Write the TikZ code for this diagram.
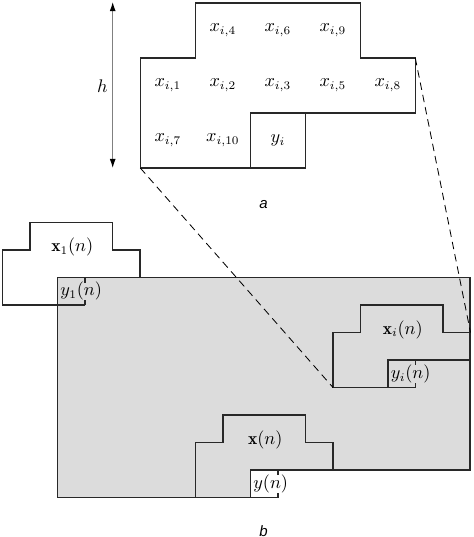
\documentclass[tikz,border=0pt]{standalone}
\usepackage{fontspec}
\usepackage{amsmath}
\usetikzlibrary{arrows.meta}
\newfontfamily\labfont{Liberation Sans}
\definecolor{pastgray}{RGB}{220,220,220}
\definecolor{edge}{RGB}{40,40,40}
\begin{document}
\begin{tikzpicture}[x=0.6pt,y=-0.6pt,
  outl/.style={draw=edge,line width=0.75pt,line join=miter},
  tickmark/.style={draw=edge,line width=0.75pt},
  cell/.style={inner sep=0pt,font=\fontsize{10.5}{12}\selectfont},
  small/.style={inner sep=0pt,anchor=west,font=\fontsize{10.5}{12}\selectfont},
  dsh/.style={draw=black,line width=0.5pt,dash pattern=on 4.5pt off 3pt},
  figlabel/.style={inner sep=0pt,font=\labfont\itshape\fontsize{9}{10}\selectfont}]
\useasboundingbox (0,0) rectangle (474,537);

% ---------------- big shape (a) ----------------
\def\X{140.3}\def\Y{3}\def\c{55}
\draw[outl] (\X,\Y+\c) -- (\X+\c,\Y+\c) -- (\X+\c,\Y) -- (\X+4*\c,\Y)
  -- (\X+4*\c,\Y+\c) -- (\X+5*\c,\Y+\c) -- (\X+5*\c,\Y+2*\c)
  -- (\X+3*\c,\Y+2*\c) -- (\X+3*\c,\Y+3*\c) -- (\X,\Y+3*\c) -- cycle;
\draw[outl] (\X+2*\c,\Y+3*\c) -- (\X+2*\c,\Y+2*\c) -- (\X+3*\c,\Y+2*\c);
\coordinate (bigBL) at (\X,\Y+3*\c);
\coordinate (bigTR) at (\X+5*\c,\Y+\c);

\node[cell] (x4)  at (\X+1.5*\c,\Y+0.5*\c) {$x_{i,4}$};
\node[cell] (x6)  at (\X+2.5*\c,\Y+0.5*\c) {$x_{i,6}$};
\node[cell] (x9)  at (\X+3.5*\c,\Y+0.5*\c) {$x_{i,9}$};
\node[cell] (x1)  at (\X+0.5*\c,\Y+1.5*\c) {$x_{i,1}$};
\node[cell] (x2)  at (\X+1.5*\c,\Y+1.5*\c) {$x_{i,2}$};
\node[cell] (x3)  at (\X+2.5*\c,\Y+1.5*\c) {$x_{i,3}$};
\node[cell] (x5)  at (\X+3.5*\c,\Y+1.5*\c) {$x_{i,5}$};
\node[cell] (x8)  at (\X+4.5*\c,\Y+1.5*\c) {$x_{i,8}$};
\node[cell] (x7)  at (\X+0.5*\c,\Y+2.5*\c) {$x_{i,7}$};
\node[cell] (x10) at (\X+1.5*\c,\Y+2.5*\c) {$x_{i,10}$};
\node[cell] (yi)  at (\X+2.5*\c,\Y+2.5*\c) {$y_i$};

% height arrow
\coordinate (hTop) at (112.7,2);
\coordinate (hBot) at (112.7,168);
\draw[draw=gray,line width=0.6pt,{Latex[length=5.5pt,width=3.6pt,color=black]}-{Latex[length=5.5pt,width=3.6pt,color=black]}] (hTop) -- (hBot);
\node[cell] (hlab) at (102.5,86) {$h$};

\node[figlabel] (alab) at (263.5,205) {a};

% ---------------- picture (b) ----------------
\def\c{27.5}
% causal region
\fill[pastgray] (57.5,277.5) -- (470,277.5) -- (470,470) -- (250.5,470)
  -- (250.5,497.5) -- (57.5,497.5) -- cycle;
\draw[outl] (57.5,277.5) -- (470,277.5) -- (470,470) -- (250.5,470)
  -- (250.5,497.5) -- (57.5,497.5) -- cycle;

% x_1(n) shape
\def\X{2.5}\def\Y{222.5}
\draw[outl] (\X+3*\c,\Y+3*\c) -- (\X,\Y+3*\c) -- (\X,\Y+\c) -- (\X+\c,\Y+\c)
  -- (\X+\c,\Y) -- (\X+4*\c,\Y) -- (\X+4*\c,\Y+\c) -- (\X+5*\c,\Y+\c) -- (\X+5*\c,\Y+2*\c);
\draw[tickmark] (\X+3*\c,\Y+2*\c) -- ++(0,5);
\draw[tickmark] (\X+3*\c,\Y+3*\c) -- ++(0,-5);
\node[cell] (xone) at (\X+2.5*\c+1,\Y+\c-3) {$\mathbf{x}_1(n)$};
\node[small] (yone) at (\X+2*\c+2.5,\Y+2.5*\c) {$y_1(n)$};

% x_i(n) shape
\def\X{333}\def\Y{305}
\draw[outl] (\X+3*\c,\Y+3*\c) -- (\X,\Y+3*\c) -- (\X,\Y+\c) -- (\X+\c,\Y+\c)
  -- (\X+\c,\Y) -- (\X+4*\c,\Y) -- (\X+4*\c,\Y+\c) -- (\X+5*\c,\Y+\c);
\draw[outl] (\X+2*\c,\Y+3*\c) -- (\X+2*\c,\Y+2*\c) -- (\X+5*\c,\Y+2*\c);
\draw[tickmark] (\X+3*\c,\Y+2*\c) -- ++(0,5);
\draw[tickmark] (\X+3*\c,\Y+3*\c) -- ++(0,-5);
\coordinate (smBL) at (\X,\Y+3*\c);
\coordinate (smTR) at (\X+5*\c,\Y+\c);
\node[cell] (xi) at (\X+2.5*\c+1,\Y+\c-3) {$\mathbf{x}_i(n)$};
\node[small] (yin) at (\X+2*\c+2.5,\Y+2.5*\c) {$y_i(n)$};

% x(n) shape
\def\X{195.5}\def\Y{415}
\draw[outl] (\X+3*\c,\Y+3*\c) -- (\X,\Y+3*\c) -- (\X,\Y+\c) -- (\X+\c,\Y+\c)
  -- (\X+\c,\Y) -- (\X+4*\c,\Y) -- (\X+4*\c,\Y+\c) -- (\X+5*\c,\Y+\c) -- (\X+5*\c,\Y+2*\c);
\draw[tickmark] (\X+3*\c,\Y+2*\c) -- ++(0,5);
\draw[tickmark] (\X+3*\c,\Y+3*\c) -- ++(0,-5);
\node[cell] (xn) at (\X+2.5*\c+1,\Y+\c-3) {$\mathbf{x}(n)$};
\node[small] (yn) at (\X+2*\c+2.5,\Y+2.5*\c) {$y(n)$};

\node[figlabel] (blab) at (263.5,531) {b};

% zoom lines
\draw[dsh] (bigBL) -- (smBL);
\draw[dsh] (bigTR) -- (smTR);
\end{tikzpicture}
\end{document}
